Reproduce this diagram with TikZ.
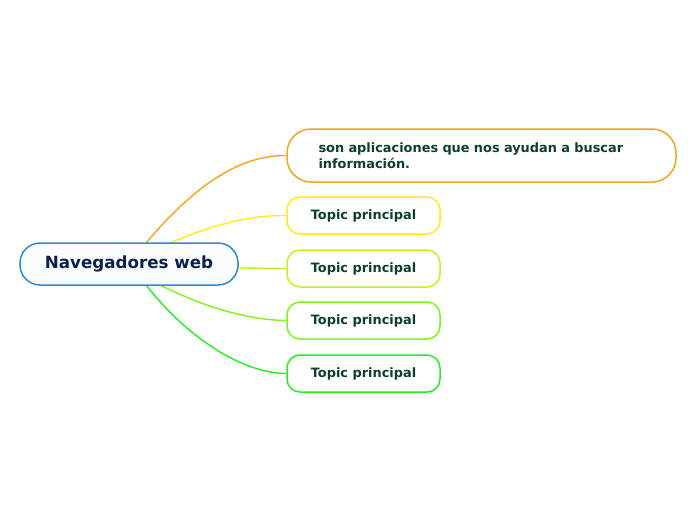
\documentclass[tikz,border=0pt]{standalone}
\usepackage{fontspec}
\setmainfont{DejaVu Sans}
\usetikzlibrary{backgrounds}
\definecolor{txtgreen}{HTML}{0B3F2E}
\definecolor{navy}{HTML}{0D1F4F}
\definecolor{cblue}{HTML}{2E8BCC}
\definecolor{corange}{HTML}{F7A21B}
\definecolor{cyellow}{HTML}{FFEA1A}
\definecolor{clime}{HTML}{BBF51A}
\definecolor{cgreenA}{HTML}{7DF51A}
\definecolor{cgreenB}{HTML}{22EE22}
\begin{document}
\begin{tikzpicture}[x=1pt,y=-1pt,
  topic/.style={draw, line width=1.5pt, rounded corners=13pt, fill=white, minimum width=153pt, minimum height=37pt, inner sep=0pt, text=txtgreen, font=\fontsize{12.9}{15}\selectfont\bfseries},
  conn/.style={line width=1.4pt}]
\useasboundingbox (0,0) rectangle (696,520);
\node[draw=cblue, line width=1.5pt, rounded corners=20pt, fill=cblue!3, minimum width=218pt, minimum height=42pt, inner sep=0pt, text=navy, font=\fontsize{16.7}{20}\selectfont\bfseries] (root) at (129,264) {\raisebox{-1.5pt}{Navegadores web}};
\node[topic, draw=corange, minimum width=389pt, minimum height=53pt, rounded corners=24pt, text width=326pt, align=left, font=\fontsize{12.9}{16}\selectfont\bfseries] (t0) at (481.5,155.5) {son aplicaciones que nos ayudan a buscar\\información.};
\node[topic, draw=cyellow] (t1) at (363.5,215.5) {\raisebox{-1.5pt}{Topic principal}};
\node[topic, draw=clime] (t2) at (363.5,268.5) {\raisebox{-1.5pt}{Topic principal}};
\node[topic, draw=cgreenA] (t3) at (363.5,320.5) {\raisebox{-1.5pt}{Topic principal}};
\node[topic, draw=cgreenB] (t4) at (363.5,373.5) {\raisebox{-1.5pt}{Topic principal}};
\coordinate (sO) at (146,243);
\coordinate (sY) at (170,243);
\coordinate (sL) at (238,268);
\coordinate (sG) at (160,285);
\coordinate (sG2) at (146,285);
\begin{scope}[on background layer]
\draw[conn, corange] (sO) .. controls (195,185) and (240,155) .. (t0.west);
\draw[conn, cyellow] (sY) .. controls (205,228) and (245,215) .. (t1.west);
\draw[conn, clime] (sL) -- (t2.west);
\draw[conn, cgreenA] (sG) .. controls (200,305) and (245,320) .. (t3.west);
\draw[conn, cgreenB] (sG2) .. controls (185,335) and (240,373) .. (t4.west);
\end{scope}
\end{tikzpicture}
\end{document}
